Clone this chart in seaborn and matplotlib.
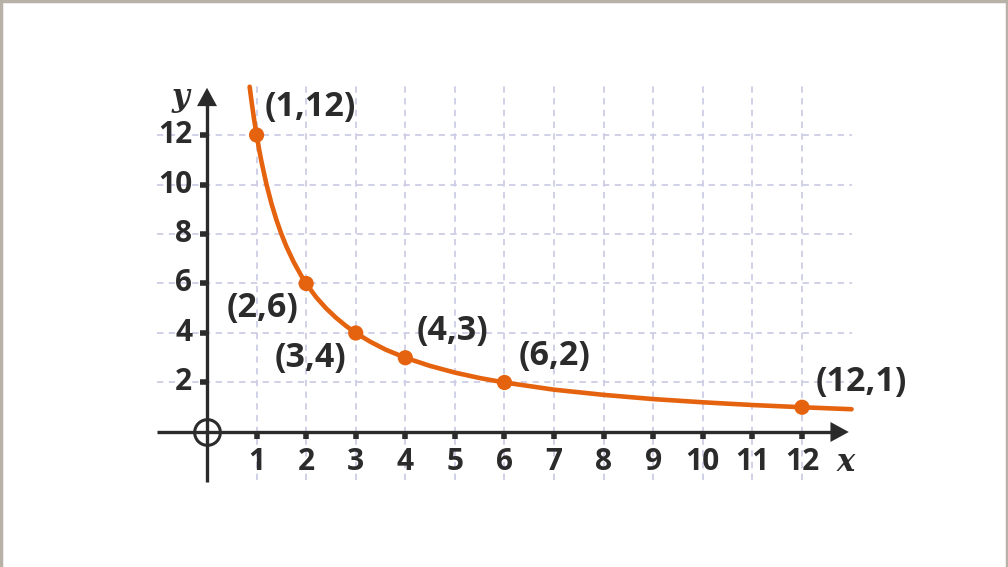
import matplotlib.pyplot as plt
import seaborn as sns
import pandas as pd
from matplotlib.lines import Line2D

sns.set_theme(style="white")
plt.rcParams['font.family'] = ['Open Sans', 'DejaVu Sans']

# points marked on the curve
point_x = [1, 2, 3, 4, 6, 12]
point_y = [12, 6, 4, 3, 2, 1]
point_labels = ['(1,12)', '(2,6)', '(3,4)', '(4,3)', '(6,2)', '(12,1)']

# curve
curve_x = [0.86, 0.9, 0.95, 1, 1.05, 1.1, 1.2, 1.3, 1.4, 1.5, 1.6, 1.75, 1.9, 2, 2.2, 2.4,
           2.6, 2.8, 3, 3.3, 3.6, 4, 4.5, 5, 5.5, 6, 7, 8, 9, 10, 11, 12, 13]
curve_y = [13.95, 13.33, 12.63, 12, 11.43, 10.91, 10, 9.23, 8.57, 8, 7.5, 6.86, 6.32, 6, 5.45, 5,
           4.62, 4.29, 4, 3.64, 3.33, 3, 2.67, 2.4, 2.18, 2, 1.71, 1.5, 1.33, 1.2, 1.09, 1, 0.92]

x_ticks = list(range(1, 13))
y_ticks = [2, 4, 6, 8, 10, 12]

orange = '#e5620e'
ink = '#2b2b2b'
grid_col = '#cdcde6'

fig = plt.figure(figsize=(10.08, 5.67), dpi=100)
ax = fig.add_axes([0, 0, 1, 1])
ax.set_xlim(-4.175, 16.155)
ax.set_ylim(-5.455, 17.455)
ax.axis('off')

# dashed grid
ax.vlines(x_ticks, -1.95, 14.0, colors=grid_col, linestyles=(0, (3.5, 3)), linewidth=1.3, zorder=1)
ax.hlines(y_ticks, -1.0, 13.0, colors=grid_col, linestyles=(0, (3.5, 3)), linewidth=1.3, zorder=1)

# axes with arrow heads
ax.plot([-1, 12.7], [0, 0], color=ink, lw=2.4, solid_capstyle='butt', zorder=3)
ax.plot([0, 0], [-2.03, 13.3], color=ink, lw=2.4, solid_capstyle='butt', zorder=3)
ax.annotate('', xy=(13.0, 0), xytext=(12.6, 0),
            arrowprops=dict(arrowstyle='-|>,head_length=1.1,head_width=0.6', color=ink, lw=0), zorder=3)
ax.annotate('', xy=(0, 14.02), xytext=(0, 13.2),
            arrowprops=dict(arrowstyle='-|>,head_length=1.1,head_width=0.6', color=ink, lw=0), zorder=3)

# tick marks
ax.vlines(x_ticks, -0.3, 0, colors=ink, lw=4, zorder=3)
ax.hlines(y_ticks, -0.14, 0, colors=ink, lw=4, zorder=3)

# origin circle
ax.plot([0], [0], marker='o', markersize=18.5, markerfacecolor='none',
        markeredgecolor=ink, markeredgewidth=2.2, zorder=4)

for t in x_ticks:
    ax.text(t, -1.2, str(t), ha='center', va='center', fontsize=21.5, fontweight='bold', color=ink)
for t in y_ticks:
    ax.text(-0.3, t, str(t), ha='right', va='center', fontsize=21.5, fontweight='bold', color=ink)

ax.text(-0.53, 13.53, 'y', ha='center', va='center', fontsize=22, style='italic',
        fontweight='bold', family='DejaVu Serif', color=ink)
ax.text(12.88, -1.24, 'x', ha='center', va='center', fontsize=22, style='italic',
        fontweight='bold', family='DejaVu Serif', color=ink)

# the curve and its points
curve = pd.DataFrame({'x': curve_x, 'y': curve_y})
pts = pd.DataFrame({'x': point_x, 'y': point_y})
sns.lineplot(data=curve, x='x', y='y', color=orange, lw=3.3, sort=False, ax=ax, zorder=5)
sns.scatterplot(data=pts, x='x', y='y', color=orange, s=120, edgecolor='none', ax=ax, zorder=6)

offsets = [(8, 28, 'left'), (-44, -25, 'center'), (-45, -25, 'center'),
           (47, 27, 'center'), (50, 26, 'center'), (59, 25, 'center')]
for px, py, lab, (dx, dy, ha) in zip(point_x, point_y, point_labels, offsets):
    ax.annotate(lab, (px, py), xytext=(dx, dy), textcoords='offset pixels',
                ha=ha, va='center', fontsize=24.5, fontweight='bold', color=ink)

# thin frame round the picture
frame = '#b7b1a8'
fig.add_artist(Line2D([0.001, 0.001], [0, 0.998], transform=fig.transFigure, color=frame, lw=2.5))
fig.add_artist(Line2D([0, 1], [0.998, 0.998], transform=fig.transFigure, color=frame, lw=2.5))
fig.add_artist(Line2D([0.999, 0.999], [0, 0.998], transform=fig.transFigure, color=frame, lw=2.5))

fig.savefig('out.png', dpi=100)
